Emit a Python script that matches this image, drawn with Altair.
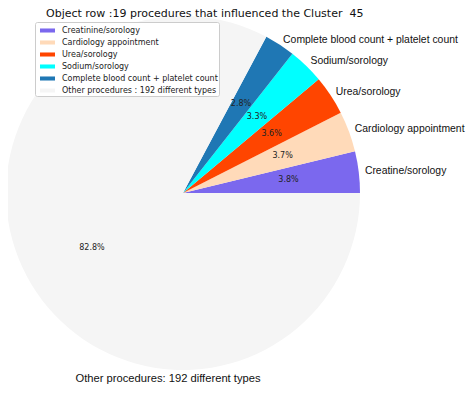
import math
import altair as alt
import pandas as pd

legend_names = [
    "Creatinine/sorology",
    "Cardiology appointment",
    "Urea/sorology",
    "Sodium/sorology",
    "Complete blood count + platelet count",
    "Other procedures : 192 different types",
]
slice_labels = [
    "Creatine/sorology",
    "Cardiology appointment",
    "Urea/sorology",
    "Sodium/sorology",
    "Complete blood count + platelet count",
    "Other procedures: 192 different types",
]
shares = [3.8, 3.7, 3.6, 3.3, 2.8, 82.8]
colors = ["#7B68EE", "#FFDAB9", "#FF4500", "#00FFFF", "#1F77B4", "#F5F5F5"]
title_text = "Object row :19 procedures that influenced the Cluster\u00a0 45"

df = pd.DataFrame({
    "idx": list(range(len(shares))),
    "name": legend_names,
    "label": slice_labels,
    "share": shares,
    "pct": [f"{v:.1f}%" for v in shares],
})

R = 177
theta_scale = alt.Scale(range=[math.pi / 2, math.pi / 2 - 2 * math.pi])

base = alt.Chart(df).encode(
    theta=alt.Theta("share:Q", stack=True, scale=theta_scale),
    order=alt.Order("idx:Q", sort="ascending"),
)

rect_path = "M-1,-0.27H1V0.27H-1Z"

arcs = base.mark_arc(radius=R).encode(
    color=alt.Color(
        "name:N",
        scale=alt.Scale(domain=legend_names, range=colors),
        legend=alt.Legend(
            title=None,
            orient="none",
            legendX=27,
            legendY=-4,
            symbolType=rect_path,
            symbolSize=225,
            symbolStrokeWidth=0,
            symbolOffset=4,
            labelFont="DejaVu Sans",
            labelFontSize=8,
            labelColor="#222",
            labelOffset=7,
            rowPadding=0,
            strokeColor="#cccccc",
            fillColor="white",
            padding=1,
            cornerRadius=2,
            labelLimit=300,
        ),
    )
)

pct_text = base.mark_text(
    radius=R * 0.6, font="DejaVu Sans", fontSize=8, color="#222"
).encode(text="pct:N")

outer = base.transform_filter("datum.idx < 5").mark_text(
    radius=R * 1.035, align="left", baseline="middle",
    font="Liberation Sans", fontSize=10.4, color="#111"
).encode(text="label:N")

other_label = alt.Chart(df).transform_filter("datum.idx == 5").mark_text(
    theta=math.pi, radius=186, dx=-15, align="center", baseline="middle",
    font="Liberation Sans", fontSize=11.2, color="#111"
).encode(text="label:N")

chart = alt.layer(arcs, pct_text, outer, other_label).properties(
    width=350,
    height=334,
    autosize=alt.AutoSizeParams(type="none"),
    padding={"left": 0, "top": 18, "right": 108, "bottom": 25},
    title=alt.TitleParams(
        title_text, anchor="start", dx=40, offset=-3,
        font="DejaVu Sans", fontSize=11, fontWeight="normal", color="#111"
    ),
).configure_view(stroke=None)

chart.save("out.html", embed_options={"renderer": "svg", "actions": False})
